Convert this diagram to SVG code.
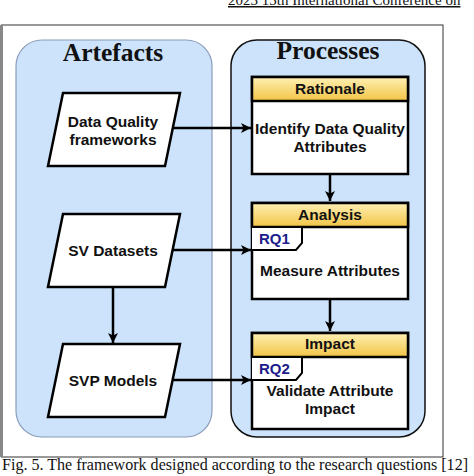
<svg xmlns="http://www.w3.org/2000/svg" width="474" height="476" viewBox="0 0 474 476">
<defs>
<linearGradient id="hdr" x1="0" y1="0" x2="0" y2="1">
<stop offset="0" stop-color="#fff0b3"/>
<stop offset="1" stop-color="#f2c446"/>
</linearGradient>
<marker id="ah" viewBox="0 0 10 10" refX="10" refY="5" markerWidth="10" markerHeight="10" markerUnits="userSpaceOnUse" orient="auto">
<path d="M0,0 L10,5 L0,10 L2.5,5 Z" fill="#000"/>
</marker>
<style>
.para{fill:#fff;stroke:#000;stroke-width:2.5}
.box{fill:#fff;stroke:#000;stroke-width:2.5}
.hd{fill:url(#hdr);stroke:#000;stroke-width:2.5}
.tab{fill:#fff;stroke:#000;stroke-width:2}
.t{font-family:"Liberation Sans",Arial,sans-serif;font-weight:bold;font-size:15.5px;fill:#111;text-anchor:middle}
.rq{font-family:"Liberation Sans",Arial,sans-serif;font-weight:bold;font-size:15px;fill:#1c1c8a}
.title{font-family:"Liberation Serif","Times New Roman",serif;font-weight:bold;font-size:25.5px;fill:#111;text-anchor:middle}
.cap{font-family:"Liberation Serif","Times New Roman",serif;font-size:16px;fill:#111}
.conn{stroke:#000;stroke-width:2.5;fill:none;marker-end:url(#ah)}
</style>
</defs>
<rect width="474" height="476" fill="#fff"/>
<text x="228" y="5" class="cap" style="font-size:15px" text-decoration="underline">2023 13th International Conference on</text>
<rect x="1.5" y="25" width="441.5" height="432" fill="#fff" stroke="#333" stroke-width="1"/>
<rect x="0" y="25" width="3" height="432" fill="#888"/>
<g id="artefacts">
<rect x="16" y="40" width="196" height="397" rx="26" fill="#cce3fb" stroke="#8a9cba" stroke-width="1.2"/>
<text x="113" y="61" class="title">Artefacts</text>
</g>
<g id="processes">
<rect x="231" y="40" width="194" height="397" rx="26" fill="#cce3fb" stroke="#111" stroke-width="1.5"/>
<text x="328" y="59" class="title">Processes</text>
</g>
<g id="dq">
<polygon class="para" points="63,93 180,93 165,166 48,166"/>
<text x="113" y="127" class="t">Data Quality</text>
<text x="113" y="145" class="t">frameworks</text>
</g>
<g id="svd">
<polygon class="para" points="63,214 180,214 165,287 48,287"/>
<text x="113" y="256" class="t">SV Datasets</text>
</g>
<g id="svp">
<polygon class="para" points="63,344 180,344 165,417 48,417"/>
<text x="113" y="386" class="t">SVP Models</text>
</g>
<g id="rationale">
<rect class="box" x="252" y="77" width="156" height="97"/>
<rect class="hd" x="252" y="77" width="156" height="24"/>
<text x="330" y="94" class="t">Rationale</text>
<text x="330" y="134" class="t">Identify Data Quality</text>
<text x="330" y="152" class="t">Attributes</text>
</g>
<g id="analysis">
<rect class="box" x="252" y="203" width="156" height="96"/>
<rect class="hd" x="252" y="203" width="156" height="24"/>
<text x="330" y="220" class="t">Analysis</text>
<path class="tab" d="M252,227 H302 V243 L296,250 H252"/>
<text x="259" y="244" class="rq">RQ1</text>
<text x="330" y="276" class="t">Measure Attributes</text>
</g>
<g id="impact">
<rect class="box" x="252" y="333" width="156" height="96"/>
<rect class="hd" x="252" y="333" width="156" height="24"/>
<text x="330" y="349" class="t">Impact</text>
<path class="tab" d="M252,357 H302 V373 L296,380 H252"/>
<text x="259" y="374" class="rq">RQ2</text>
<text x="330" y="396" class="t">Validate Attribute</text>
<text x="330" y="414" class="t">Impact</text>
</g>
<g id="connectors">
<line class="conn" x1="173" y1="128" x2="251" y2="128"/>
<line class="conn" x1="173" y1="250" x2="251" y2="250"/>
<line class="conn" x1="173" y1="380" x2="251" y2="380"/>
<line class="conn" x1="113" y1="288" x2="113" y2="343"/>
<line class="conn" x1="330" y1="175" x2="330" y2="201"/>
<line class="conn" x1="330" y1="300" x2="330" y2="331"/>
</g>
<text x="2" y="470" class="cap" textLength="466" lengthAdjust="spacingAndGlyphs">Fig. 5. The framework designed according to the research questions [12]</text>
</svg>
